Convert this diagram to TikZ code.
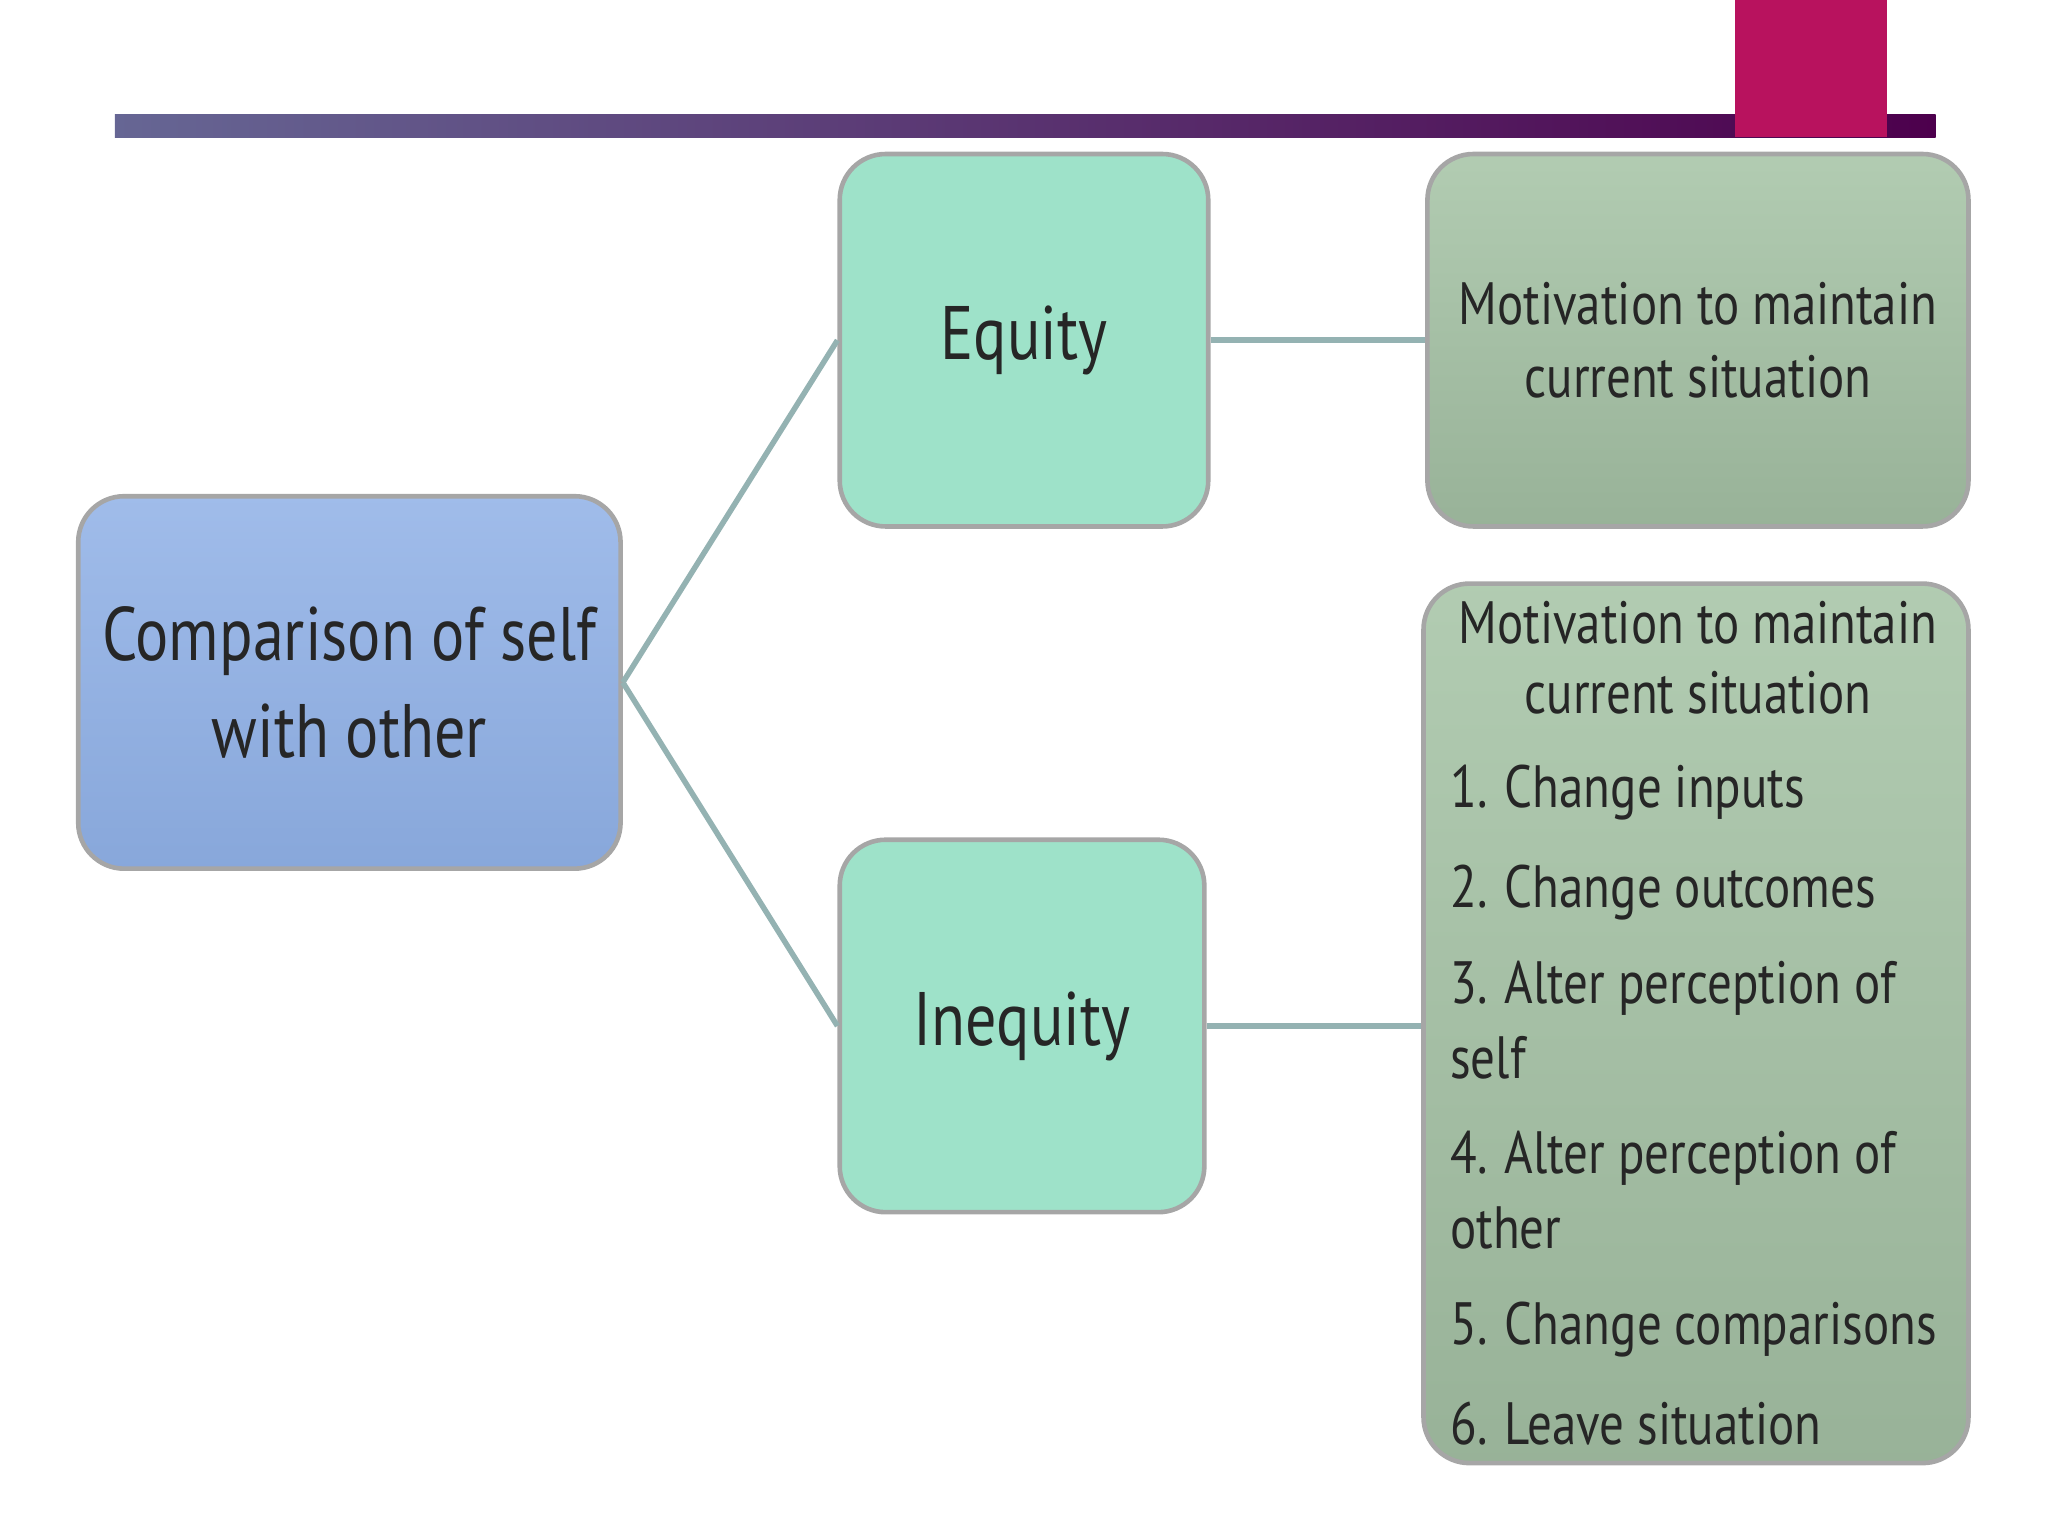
\documentclass[tikz,border=0pt]{standalone}
\usepackage{fontspec}
\setmainfont[FakeStretch=0.82]{PT Sans}
\definecolor{bluebox}{HTML}{8FB0E6}
\definecolor{tealbox}{HTML}{9EE2C9}
\definecolor{sagebox}{HTML}{A9C6A9}
\definecolor{magent}{HTML}{B8125E}
\begin{document}
\begin{tikzpicture}[x=0.01cm,y=-0.01cm,
  box/.style={draw=gray!70,line width=1pt,rounded corners=10pt},
  txt/.style={font=\fontsize{13}{16}\selectfont,text=black!85},
  item/.style={font=\fontsize{13}{16}\selectfont,text=black!85,anchor=west},
  conn/.style={draw=gray!60!teal!60,line width=1.2pt}]
\useasboundingbox (0,0) rectangle (1568,1176);
\shade[left color=black!70!blue!60, right color=violet!60!black] (88,88) rectangle (1482,105);
\fill[magent] (1328,0) rectangle (1445,105);
\node[box,top color=bluebox!85,bottom color=bluebox!95!black,minimum width=4.15cm,minimum height=2.85cm] (cmp) at (267.5,522.5) {};
\node[txt,align=center,font=\fontsize{16.5}{21}\selectfont] at (cmp) {Comparison of self\\with other};
\node[box,fill=tealbox,minimum width=2.82cm,minimum height=2.85cm] (eq) at (784,260.5) {};
\node[txt,font=\fontsize{16.5}{20}\selectfont] at (eq) {Equity};
\node[box,fill=tealbox,minimum width=2.79cm,minimum height=2.85cm] (ineq) at (782.5,785.5) {};
\node[txt,font=\fontsize{16.5}{20}\selectfont] at (ineq) {Inequity};
\node[box,top color=sagebox!90,bottom color=sagebox!90!black,minimum width=4.14cm,minimum height=2.85cm] (mot) at (1300,260.5) {};
\node[txt,align=center] at (mot) {Motivation to maintain\\current situation};
\node[box,top color=sagebox!90,bottom color=sagebox!90!black,minimum width=4.17cm,minimum height=6.73cm] (big) at (1298.5,783.5) {};
\node[txt] (t1) at (1300,477) {Motivation to maintain};
\node[txt] (t2) at (1300,530) {current situation};
\node[item] (i1) at (1098,607) {1. Change inputs};
\node[item] (i2) at (1098,683) {2. Change outcomes};
\node[item] (i3) at (1098,757) {3. Alter perception of};
\node[item] (i3b) at (1098,810) {self};
\node[item] (i4) at (1098,887) {4. Alter perception of};
\node[item] (i4b) at (1098,940) {other};
\node[item] (i5) at (1098,1018) {5. Change comparisons};
\node[item] (i6) at (1098,1090) {6. Leave situation};
\draw[conn] (cmp.east) -- (eq.west);
\draw[conn] (cmp.east) -- (ineq.west);
\draw[conn] (eq.east) -- (mot.west);
\draw[conn] (ineq.east) -- (big.west |- ineq.east);
\end{tikzpicture}
\end{document}
